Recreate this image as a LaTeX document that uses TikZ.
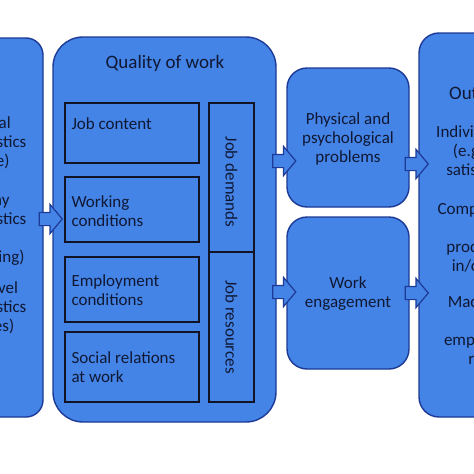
\documentclass[tikz,border=0pt]{standalone}
\usepackage{fontspec}
\setmainfont{Carlito}
\usetikzlibrary{shapes.arrows,calc}
\definecolor{boxblue}{RGB}{68,132,230}
\definecolor{edgeblue}{RGB}{28,58,150}
\definecolor{inkc}{RGB}{16,24,52}
\definecolor{innerline}{RGB}{18,20,38}
\tikzset{
  panel/.style={rectangle, draw=edgeblue, fill=boxblue, line width=1.4pt, inner sep=0pt, outer sep=0pt, anchor=north west},
  subbox/.style={rectangle, draw=innerline, line width=2pt, inner sep=0pt, outer sep=0pt, anchor=north west},
  barrow/.style={single arrow, draw=edgeblue, fill=boxblue, line width=1.2pt, inner sep=0pt, outer sep=0pt,
     text height=12pt, text depth=0pt, minimum height=23pt, single arrow head extend=8pt, single arrow tip angle=100},
  txt/.style={font=\fontsize{17}{19}\selectfont, text=inkc, inner sep=0pt, outer sep=0pt, align=center},
  ttl/.style={font=\fontsize{19}{21}\selectfont, text=inkc, inner sep=0pt, outer sep=0pt}
}
\begin{document}
\begin{tikzpicture}[x=1pt,y=-1pt]
\useasboundingbox (0,0) rectangle (474,474);
\fill[white] (0,0) rectangle (474,474);
\clip (0,0) rectangle (474,474);
% panels
\node[panel, rounded corners=17pt, minimum width=132pt, minimum height=379pt] (det) at (-89,38) {};
\node[panel, rounded corners=30pt, minimum width=223pt, minimum height=385pt] (qual) at (53,37) {};
\node[panel, rounded corners=20pt, minimum width=122pt, minimum height=139pt] (phys) at (287,68) {};
\node[panel, rounded corners=20pt, minimum width=122pt, minimum height=152pt] (eng) at (287,217) {};
\node[panel, rounded corners=20pt, minimum width=136pt, minimum height=384pt] (out) at (419,33) {};
% inner boxes
\node[subbox, minimum width=134pt, minimum height=60pt] (jc) at (65,103) {};
\node[subbox, minimum width=134pt, minimum height=65pt] (wc) at (65,177) {};
\node[subbox, minimum width=134pt, minimum height=65pt] (ec) at (65,257) {};
\node[subbox, minimum width=134pt, minimum height=70pt] (sr) at (65,332) {};
\node[subbox, minimum width=45pt, minimum height=149pt] (jd) at (209,103) {};
\node[subbox, minimum width=45pt, minimum height=150pt] (jr) at (209,252) {};
% texts: determinants (base = last line)
\node[txt, anchor=base] (d1) at (-23,166) {Individual\\characteristics\\(e.g. age)};
\node[txt, anchor=base] (d2) at (-23,262) {Company\\characteristics\\(e.g.\\restructuring)};
\node[txt, anchor=base] (d3) at (-23,331) {Macro-level\\characteristics\\(e.g. rules)};
% quality of work
\node[ttl, anchor=base] (qt) at (165,68) {Quality of work};
\node[txt, align=left, anchor=base west] (jct) at (71.5,129) {Job content};
\node[txt, align=left, anchor=base west] (wct) at (71.5,226) {Working\\conditions};
\node[txt, align=left, anchor=base west] (ect) at (71.5,305) {Employment\\conditions};
\node[txt, align=left, anchor=base west] (srt) at (71.5,382) {Social relations\\at work};
\node[txt, rotate=-90] (jdt) at (231.5,182) {Job demands};
\node[txt, rotate=-90] (jrt) at (jr.center) {Job resources};
% middle
\node[txt, anchor=base] (pt) at (348,162) {Physical and\\psychological\\problems};
\node[txt, anchor=base] (et) at (348,307) {Work\\engagement};
% outcomes
\node[ttl, anchor=base] (ot) at (488.5,99) {Outcomes};
\node[txt, anchor=base] (o1) at (488,175) {Individual level\\(e.g. work\\satisfaction)};
\node[txt, anchor=base] (o2) at (488,271) {Company level\\e.g.\\productivity\\in/outflow};
\node[txt, anchor=base] (o3) at (488,364) {Macro level\\e.g.\\employment\\rates)};
% arrows
\coordinate (ya) at (0,219);
\coordinate (yb) at (0,161);
\coordinate (yc) at (0,292);
\coordinate (yd) at (0,164);
\coordinate (ye) at (0,293);
\node[barrow] (a1) at ($(det.east |- ya)!0.5!(qual.west |- ya)$) {};
\node[barrow] (a2) at ($(qual.east |- yb)!0.5!(phys.west |- yb)$) {};
\node[barrow] (a3) at ($(qual.east |- yc)!0.5!(eng.west |- yc)$) {};
\node[barrow] (a4) at ($(phys.east |- yd)!0.5!(out.west |- yd)$) {};
\node[barrow] (a5) at ($(eng.east |- ye)!0.5!(out.west |- ye)$) {};
\end{tikzpicture}
\end{document}
